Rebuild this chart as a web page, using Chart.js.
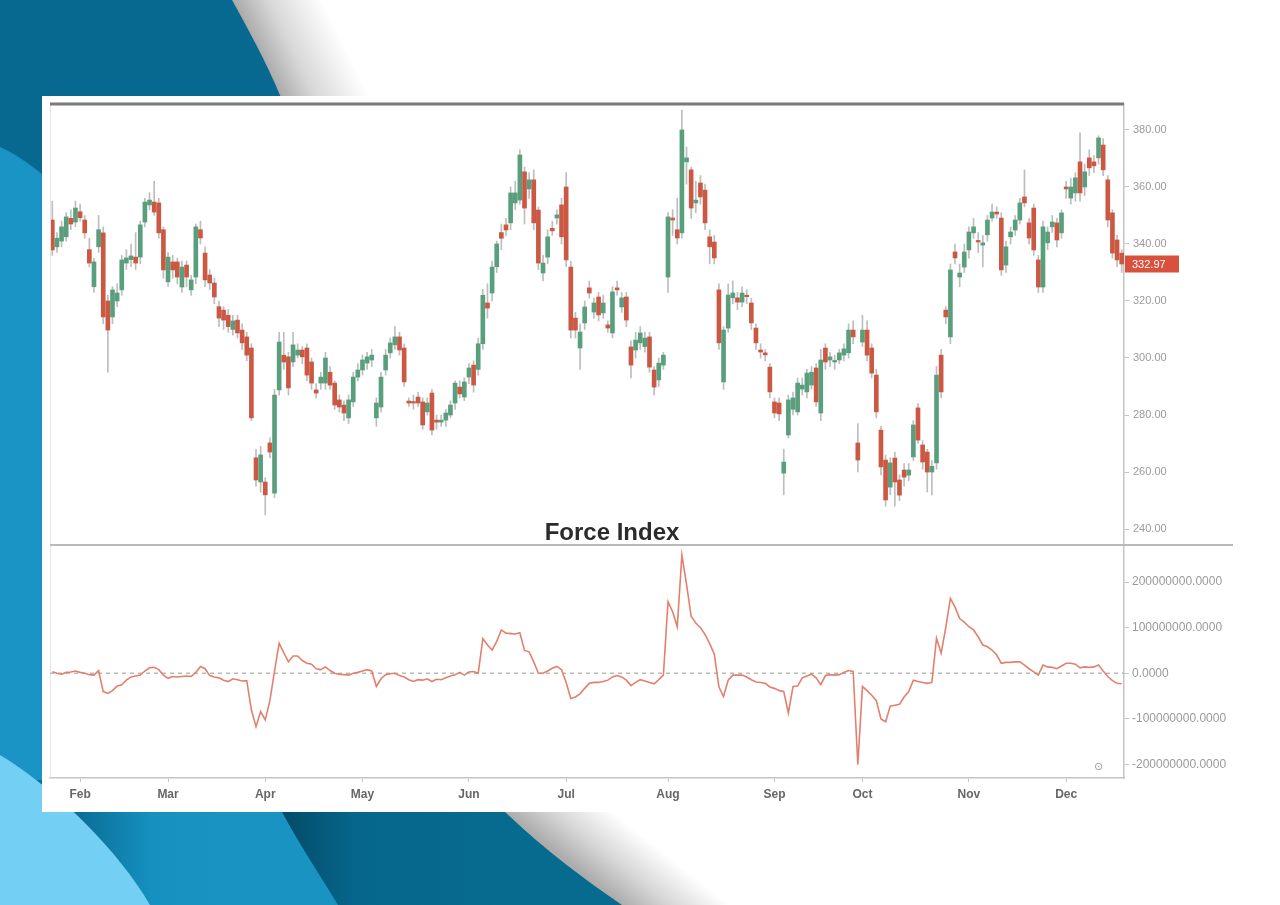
<!DOCTYPE html>
<html>
<head>
<meta charset="utf-8">
<script src="https://cdn.jsdelivr.net/npm/chart.js@4.4.0/dist/chart.umd.min.js"></script>
<style>
html,body{margin:0;padding:0;width:1280px;height:905px;overflow:hidden;background:#fff;font-family:"Liberation Sans",Arial,sans-serif}
#bg{position:absolute;left:0;top:0}
#card{position:absolute;left:42px;top:96px;width:1193px;height:716px;background:#fff}
#w1{position:absolute;left:42px;top:96px;width:1193px;height:450px}
#w2{position:absolute;left:42px;top:546px;width:1193px;height:266px}
canvas{display:block}
#title{position:absolute;left:462px;top:520px;width:300px;text-align:center;font:bold 24px/24px "Liberation Sans",Arial,sans-serif;color:#2b2b2b}
#gear{position:absolute;left:1094px;top:761px;font:11px/12px "DejaVu Sans",sans-serif;color:#9a9a9a}
</style>
</head>
<body>
<svg id="bg" width="1280" height="905" viewBox="0 0 1280 905">
<defs>
<linearGradient id="gTop" gradientUnits="userSpaceOnUse" x1="232" y1="0" x2="330" y2="-48">
<stop offset="0" stop-color="#a9a9a9"/><stop offset="0.3" stop-color="#d8d8d8"/><stop offset="0.75" stop-color="#ffffff"/>
</linearGradient>
<linearGradient id="gBot" gradientUnits="userSpaceOnUse" x1="505" y1="812" x2="598" y2="695">
<stop offset="0" stop-color="#acacac"/><stop offset="0.2" stop-color="#d6d6d6"/><stop offset="0.45" stop-color="#ffffff"/>
</linearGradient>
<linearGradient id="gDarkB" gradientUnits="userSpaceOnUse" x1="282" y1="0" x2="520" y2="0">
<stop offset="0" stop-color="#034b67"/><stop offset="0.3" stop-color="#06668b"/><stop offset="1" stop-color="#076b90"/>
</linearGradient>
<linearGradient id="gMedB" gradientUnits="userSpaceOnUse" x1="80" y1="0" x2="220" y2="0">
<stop offset="0" stop-color="#0b6f97"/><stop offset="0.5" stop-color="#1590bf"/><stop offset="1" stop-color="#1893c2"/>
</linearGradient>
</defs>
<rect width="1280" height="905" fill="#ffffff"/>
<rect x="230" y="0" width="200" height="100" fill="url(#gTop)"/>
<path d="M0,0 H232 C252,36 268,66 282,100 L0,100 Z" fill="#07698f"/>
<rect x="0" y="96" width="42" height="720" fill="#1a94c4"/>
<path d="M0,96 H42 V174 C28,163 14,153 0,147 Z" fill="#07698f"/>
<rect x="480" y="812" width="420" height="93" fill="url(#gBot)"/>
<path d="M0,812 H505 C545,850 585,880 622,905 H0 Z" fill="url(#gDarkB)"/>
<path d="M0,780 L0,905 L338,905 C318,872 298,842 282,812 L282,780 Z" fill="url(#gMedB)"/>
<path d="M0,755 C50,785 115,845 150,905 L0,905 Z" fill="#74cff4"/>
</svg>
<div id="card"></div>
<div id="w1"><canvas id="c1" width="1193" height="450"></canvas></div>
<div id="w2"><canvas id="c2" width="1193" height="266"></canvas></div>
<div id="title">Force Index</div>
<div id="gear">⊙</div>
<script>
// ---------------- DATA ----------------
const opens = [
348.4,339,341,342.5,349,347.7,351.3,348.4,338,325,
339,343.9,320,314.4,320,323.9,333.3,334.5,335.4,335.4,
347.7,353.7,354.7,354.4,345,326.7,333.7,333.7,324.9,332.6,
323.9,328.4,345,336.8,329.1,326.3,318,316.8,315,310,
313.3,309.8,307.4,303.5,265,256.5,256.5,270.2,252.6,288.8,
301,300.4,298.6,301,302.8,303.5,298.6,288.8,291.2,291.2,
295,291.2,285.3,283.5,279,284.6,293.3,295.8,298.2,299.3,
279,282.8,295.8,301.8,304.6,307.4,303.5,284.9,284.6,286.3,
284.6,281.1,287.7,278.2,277.5,278.2,280,284.2,289.8,286.3,
293.3,297.5,296,305,319.3,322.8,332,344,346.7,347.4,
354.4,355.4,365.3,359.3,362.5,351.9,329.8,335.4,345.5,349.1,
353.7,360,331.9,314,303.5,312.3,324.6,316.1,321.4,315.8,
311.6,308.8,324.6,317.9,321.4,303.9,302.8,305.3,304,307.4,
295.8,292.3,297.5,328.4,349.1,345,343.9,368.8,366,354.4,
361.4,358.9,342.5,340.7,323.9,291.6,310.5,321.1,321.1,319.6,
322,319.3,310.5,302.8,301.8,296.8,284.6,284.2,259.6,273,
282,281.1,289.1,288.1,290.5,296.5,280.7,303.5,299.3,298.6,
299.3,301,301.8,309.8,270.2,305.6,309.8,303.5,294,274.7,
264.2,254.7,264.9,257.2,260.7,258.9,265.3,282.5,269.5,267,
260,263.2,301,316.8,307.4,337.2,328.4,331.9,337.9,343.9,
341.1,339.6,343.2,349.1,351.2,349.1,332.6,342.5,344.9,348.4,
356.5,347.4,352.6,334.4,324.9,340.4,346,347.4,343.9,360,
356.1,357.9,368.8,360,370.2,368.8,370.2,374.7,362.5,350.9,
341.4,336.8
];
const closes = [
337.9,342,346,349.5,347,352.6,349.2,343.9,333.3,333.7,
345,314.4,309.8,323.9,322.8,334.4,335.1,335.8,333.3,346.7,
354.7,355.4,351.2,343.9,330.9,335.4,330.9,328.4,331.9,328.4,
327.4,346,342.1,327.4,326.3,321.4,314,313.3,311,313,
308.8,305.3,301,279,257.2,266,252,267,287,305.6,
298.6,289.5,304.6,302.8,300.4,294,291.2,287.7,293.3,300,
290.5,283.5,282.8,280.7,285.3,293.3,295.8,299.3,300.4,301,
284.2,293.3,301,305.3,307.4,302.8,291.6,284.2,284.2,284.2,
276.5,284.2,274.7,277.5,278.2,280.7,283.5,291.2,287.4,291.6,
296.5,290.5,305,322,317.5,331.9,340,342,344.9,357.9,
357.9,371.2,352.6,362.5,347.4,333.3,333.3,342.5,344.6,350.2,
342.5,334.4,309.8,309.8,309.1,317.9,322.8,319.3,315.1,319.3,
310.5,323.2,323.9,321.1,313.3,297.5,306.3,308.8,307,296.8,
289.8,298.2,301,349.5,348.4,342.1,380,370.2,352.6,355.4,
356.5,347.4,339,335.1,305.3,309.8,322.1,322.8,319.6,322.8,
321.5,312.3,305.3,302.1,301.1,288.1,280.7,280.4,263.5,285.3,
286,291.2,290.5,294.7,295,284.6,299.3,298.6,300.4,298.9,
301.8,303.2,309.8,307.4,264.2,309.8,301,294.7,281.1,261.8,
250.2,263.2,256.5,251.9,258.2,260.7,276.5,271.2,263.5,260,
262,294,288.1,314.4,330.9,335.1,329.8,337.2,344.2,346,
340.7,340.4,348.4,351.2,350.5,330.9,339,344.2,348.4,354.4,
354.4,342.1,337.9,324.9,346,344.2,347.7,341.4,350.9,359.3,
360,363.2,357.9,365.3,366.7,367.4,377.2,366,348.4,336.8,
334.4,332.97
];
const highs = [
355,344,348,351,352,355,354,350,342,335,
350,346,322,325,326,336,338,340,344,348,
356,358,362,356,346,337,336,335,334,334,
329,347,348,339,331,328,320,318,317,315,
315,312,309,305,268,269,258,272,289,309,
309,302,309,305,304,305,300,291,295,302,
297,292,287,285,287,295,298,301,302,303,
286,295,303,307,311,309,305,286,287,288,
286,286,289,280,280,282,285,292,292,293,
298,299,307,324,326,334,341,347,349,360,
362,373,367,365,366,353,336,345,348,352,
356,365,334,316,312,320,327,321,323,322,
313,325,327,323,323,306,309,311,309,309,
297,300,302,351,352,356,387,374,367,362,
364,361,345,343,326,311,326,327,323,325,
324,321,312,305,303,298,286,286,268,287,
288,293,293,296,297,298,303,305,302,301,
303,305,312,313,277,315,313,305,296,276,
266,265,267,259,263,263,278,284,271,268,
264,297,303,318,333,340,333,340,346,349,
344,343,350,354,353,351,341,346,350,356,
366,349,354,336,348,346,350,349,352,362,
363,365,379,368,373,371,378,377,364,352,
343,338
];
const lows = [
336,337,339,341,345,346,348,342,332,323,
337,312,295,312,318,322,331,332,331,333,
346,352,350,342,328,325,328,326,323,325,
322,326,340,325,324,319,311,310,309,308,
307,303,299,278,255,253,245,265,251,287,
296,287,297,300,298,292,289,286,289,289,
289,282,281,278,277,283,292,294,296,297,
276,281,294,300,303,301,290,283,282,283,
275,280,273,275,276,276,279,282,286,285,
291,288,294,303,314,320,330,338,343,345,
352,354,347,356,345,331,327,333,343,347,
340,332,307,307,296,310,321,314,313,314,
309,307,322,316,311,293,300,303,302,295,
287,290,296,323,343,340,342,361,349,351,
354,345,333,333,303,289,309,319,317,318,
319,310,303,300,299,286,279,278,252,272,
280,280,287,286,289,283,278,296,297,296,
298,299,300,305,260,304,299,293,279,259,
248,252,248,250,255,257,264,270,261,253,
252,261,286,312,305,333,325,330,335,342,
337,332,341,348,349,329,330,340,343,347,
353,340,336,323,323,338,344,339,342,356,
354,355,355,357,364,365,368,364,346,335,
332,330
];
// Force index, in millions
const forceIndex = [
3.6,0,-2,2,3,5,2,0,-3,-4,
6,-40,-44,-38,-28,-25,-15,-8,-6,-4,
5,12,13,8,-4,-11,-7,-8,-7,-6,
-7,2,15,10,-5,-8,-10,-15,-18,-12,
-14,-17,-16,-80,-117,-84,-102,-60,5,66,
45,25,38,38,28,22,20,10,8,14,
6,0,-2,-3,-4,0,2,5,8,5,
-29,-12,-3,-1,0,-5,-8,-14,-18,-14,
-15,-12,-18,-13,-14,-10,-6,-3,2,-4,
3,4,0,76,62,51,70,95,88,87,
86,89,50,47,25,0,0,5,11,15,
8,-20,-55,-52,-45,-33,-22,-20,-20,-18,
-15,-8,-5,-8,-15,-27,-20,-14,-17,-20,
-23,-14,-4,157,135,102,259,195,125,110,
100,85,65,42,-30,-51,-15,-4,-4,-4,
-8,-14,-19,-20,-22,-30,-33,-38,-40,-87,
-29,-28,-10,-6,-2,-10,-25,-5,-3,-4,
-3,2,6,4,-200,-29,-38,-48,-60,-100,
-106,-72,-70,-68,-52,-40,-15,-18,-20,-22,
-20,77,44,100,164,145,120,112,102,95,
80,62,58,51,40,22,24,24,25,25,
18,10,3,-4,18,14,13,10,16,22,
22,20,12,14,13,14,18,5,-7,-16,
-22,-23
];
const priceTicks = [240,260,280,300,320,340,360,380];
const forceTicks = [-200,-100,0,100,200];
const monthLabels = ["Feb","Mar","Apr","May","Jun","Jul","Aug","Sep","Oct","Nov","Dec"];
const monthIdx = [6,25,46,67,90,111,133,156,175,198,219];
const lastPrice = 332.97;

// ---------------- STYLE ----------------
const GREEN = '#5a9f7d', RED = '#cb5843', WICK = '#bdbdbd';
const FONT = '"Liberation Sans", Arial, sans-serif';
const AXIS = '#c4c4c4';
const N = opens.length;

const bodies = opens.map((o,i)=>({x:i, y:[o, closes[i]]}));
const wicks = opens.map((o,i)=>({x:i, y:[lows[i], highs[i]]}));
const bodyColors = opens.map((o,i)=> closes[i] >= o ? GREEN : RED);

function fitV(w){ return s => { s.width = w; s.paddingTop = 0; s.paddingBottom = 0; }; }

const decorA = {
  id:'decorA',
  afterDraw(chart){
    const {ctx, chartArea:a, scales} = chart;
    ctx.save();
    ctx.strokeStyle = '#e4e4e4'; ctx.lineWidth = 1;
    ctx.beginPath(); ctx.moveTo(a.left+0.5, a.top); ctx.lineTo(a.left+0.5, a.bottom); ctx.stroke();
    ctx.strokeStyle = '#7a7a7a'; ctx.lineWidth = 3;
    ctx.beginPath(); ctx.moveTo(a.left, a.top); ctx.lineTo(a.right, a.top); ctx.stroke();
    ctx.strokeStyle = '#b9b9b9'; ctx.lineWidth = 2;
    ctx.beginPath(); ctx.moveTo(a.left, a.bottom); ctx.lineTo(chart.width-2, a.bottom); ctx.stroke();
    const y = scales.y.getPixelForValue(lastPrice);
    ctx.fillStyle = '#d9503c';
    ctx.fillRect(a.right+1, y-8.5, 54, 17);
    ctx.fillStyle = '#ffffff';
    ctx.font = '11px ' + FONT;
    ctx.textBaseline = 'middle';
    ctx.textAlign = 'left';
    ctx.fillText(lastPrice.toFixed(2), a.right+8, y+0.5);
    ctx.restore();
  }
};

new Chart(document.getElementById('c1'), {
  type:'bar',
  data:{datasets:[
    {data:wicks, backgroundColor:WICK, barThickness:1, grouped:false, order:2},
    {data:bodies, backgroundColor:bodyColors, barThickness:4, grouped:false, minBarLength:1.5, order:1}
  ]},
  options:{
    responsive:false, animation:false, devicePixelRatio:1,
    layout:{padding:{left:8, top:8, right:0, bottom:1}},
    plugins:{legend:{display:false}, tooltip:{enabled:false}},
    scales:{
      x:{type:'linear', min:-0.5, max:N-0.5, offset:false, display:false},
      y:{position:'right', min:234.4, max:389.1,
         afterBuildTicks:s=>{s.ticks = priceTicks.map(v=>({value:v}));},
         afterFit:fitV(111),
         grid:{drawOnChartArea:false, drawTicks:true, tickLength:5, color:AXIS},
         border:{color:AXIS, width:1.5},
         ticks:{color:'#9a9a9a', font:{size:11, family:FONT}, padding:4, callback:v=>Number(v).toFixed(2)}
      }
    }
  },
  plugins:[decorA]
});

const decorB = {
  id:'decorB',
  beforeDatasetsDraw(chart){
    const {ctx, chartArea:a, scales} = chart;
    ctx.save();
    ctx.strokeStyle = '#e4e4e4'; ctx.lineWidth = 1;
    ctx.beginPath(); ctx.moveTo(a.left+0.5, a.top); ctx.lineTo(a.left+0.5, a.bottom); ctx.stroke();
    const y = scales.y.getPixelForValue(0);
    ctx.strokeStyle = '#b3bab3'; ctx.lineWidth = 1.5; ctx.setLineDash([4,4]);
    ctx.beginPath(); ctx.moveTo(a.left, y); ctx.lineTo(a.right, y); ctx.stroke();
    ctx.restore();
  }
};

new Chart(document.getElementById('c2'), {
  type:'line',
  data:{datasets:[{
    data:forceIndex.map((v,i)=>({x:i, y:v})),
    borderColor:'#e3806d', borderWidth:1.6, pointRadius:0, tension:0, fill:false
  }]},
  options:{
    responsive:false, animation:false, devicePixelRatio:1,
    layout:{padding:{left:8, top:0, right:0, bottom:0}},
    plugins:{legend:{display:false}, tooltip:{enabled:false}},
    scales:{
      x:{type:'linear', min:-0.5, max:N-0.5, offset:false,
         afterBuildTicks:s=>{s.ticks = monthIdx.map(v=>({value:v}));},
         afterFit:s=>{s.height = 34; s.paddingLeft = 0; s.paddingRight = 0;},
         grid:{drawOnChartArea:false, drawTicks:true, tickLength:4, color:AXIS},
         border:{color:AXIS, width:1.5},
         ticks:{autoSkip:false, maxRotation:0, color:'#666', padding:5,
                font:{size:12, weight:'bold', family:FONT},
                callback:v=>{const k = monthIdx.indexOf(v); return k>=0 ? monthLabels[k] : '';}}
      },
      y:{position:'right', min:-229.4, max:278.9,
         afterBuildTicks:s=>{s.ticks = forceTicks.map(v=>({value:v}));},
         afterFit:fitV(111),
         grid:{drawOnChartArea:false, drawTicks:true, tickLength:5, color:AXIS},
         border:{color:AXIS, width:1.5},
         ticks:{color:'#9a9a9a', font:{size:12, family:FONT}, padding:3,
                callback:v=>(v*1000000).toFixed(4)}
      }
    }
  },
  plugins:[decorB]
});
</script>
</body>
</html>
